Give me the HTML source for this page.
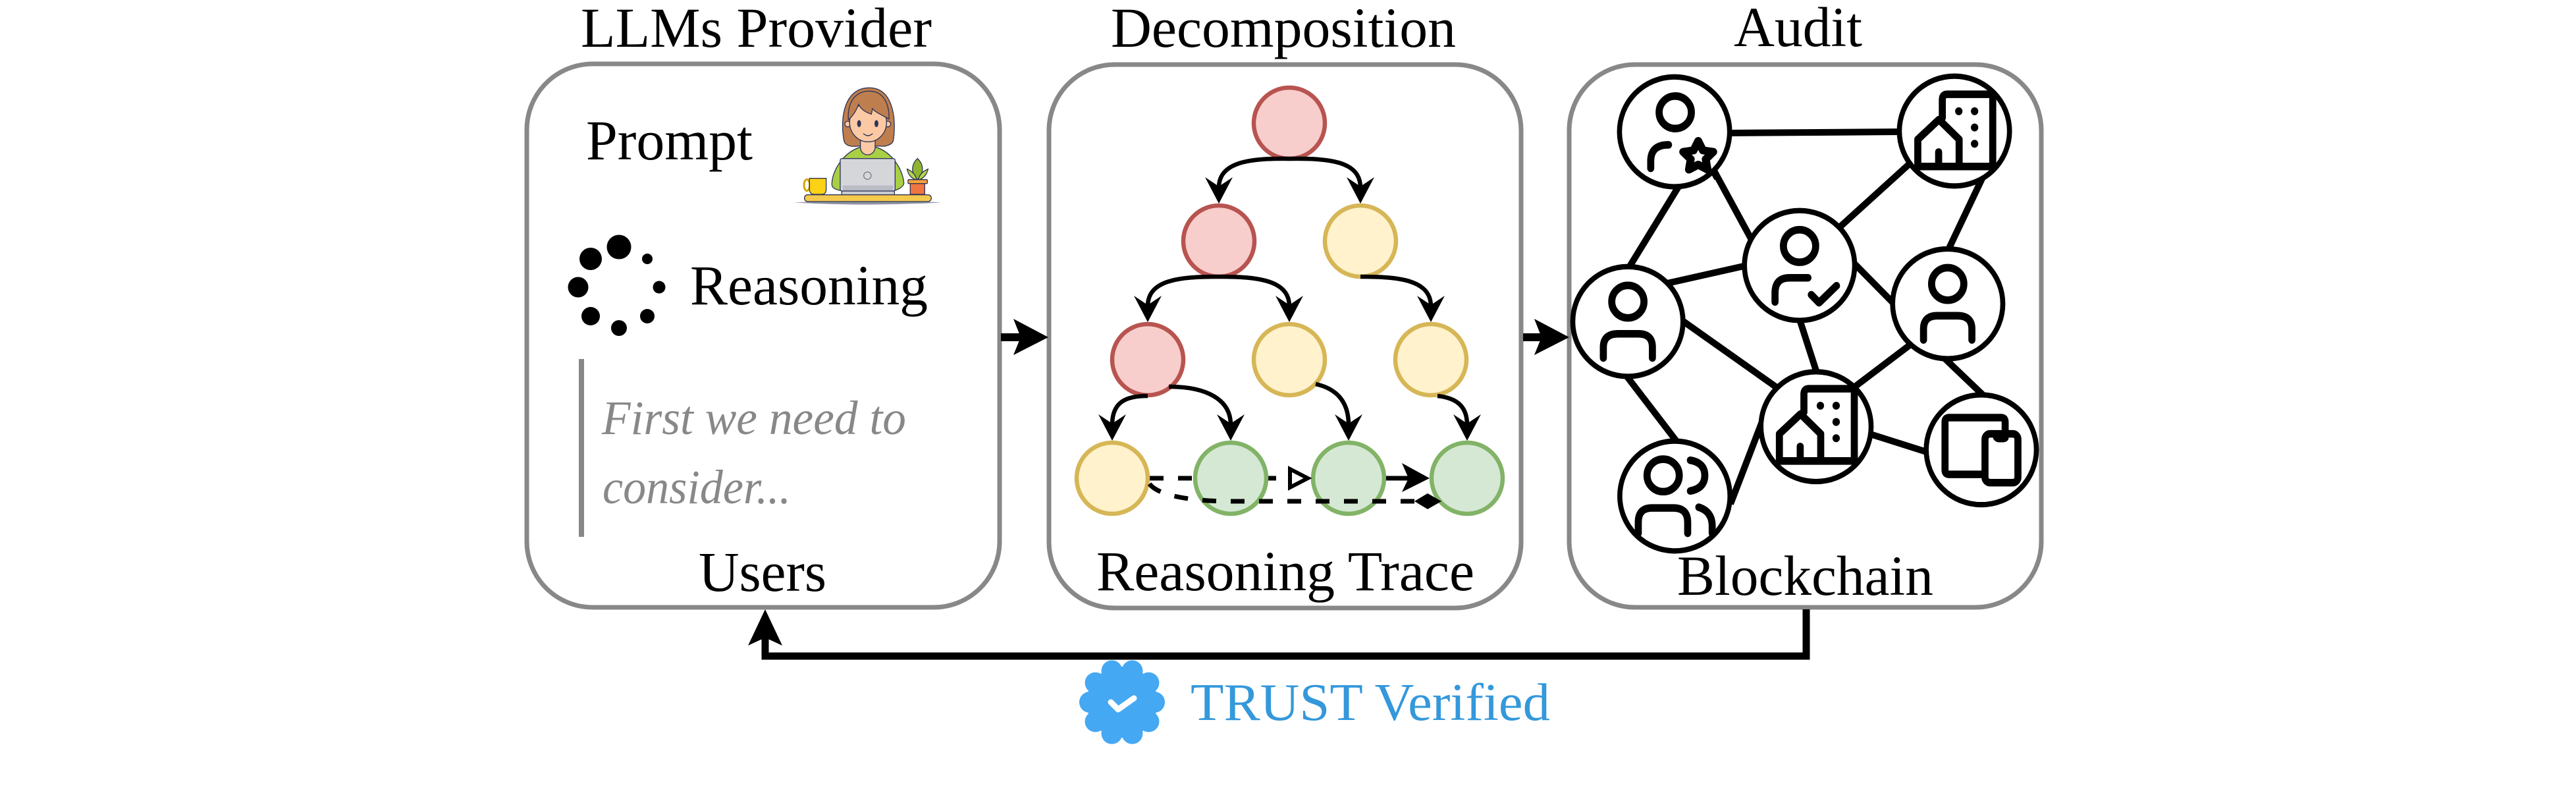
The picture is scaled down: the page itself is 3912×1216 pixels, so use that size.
<!DOCTYPE html>
<html>
<head>
<meta charset="utf-8">
<title>TRUST diagram</title>
<style>
html,body{margin:0;padding:0;background:#fff;width:3912px;height:1216px;overflow:hidden}
svg{display:block}
text{font-family:"Liberation Serif",serif;font-size:86px;fill:#000}
.box{fill:#fff;stroke:#888;stroke-width:7}
.c{fill:none;stroke:#000;stroke-width:6.5}
.r{fill:#f8cecc;stroke:#b85450;stroke-width:6.5}
.y{fill:#fff2cc;stroke:#d6b656;stroke-width:6.5}
.g{fill:#d5e8d4;stroke:#82b366;stroke-width:6.5}
.e{stroke:#000;stroke-width:10;fill:none}
.n{fill:#fff;stroke:#000;stroke-width:15}
.i{fill:none;stroke:#000;stroke-width:21;stroke-linecap:round;stroke-linejoin:round}
.l{stroke:#2f3557;stroke-width:4}
</style>
</head>
<body>
<svg width="3912" height="1216" viewBox="0 0 3912 1216" xmlns="http://www.w3.org/2000/svg">
<defs>
<polygon id="ah" points="0,0 -21,-40 0,-26 21,-40" fill="#000"/>
<g id="bld">
<path class="i" d="M1195 180V130Q1195 115 1210 115H1345V315H1122V240L1185 185L1245 240V315"/>
<path class="i" d="M1184 275V315"/>
<circle cx="1244" cy="162" r="11"/><circle cx="1291" cy="162" r="11"/><circle cx="1291" cy="207" r="11"/><circle cx="1291" cy="252" r="11"/>
</g>
</defs>
<rect width="3912" height="1216" fill="#fff"/>

<!-- boxes -->
<rect class="box" x="800" y="97" width="718" height="825" rx="100"/>
<rect class="box" x="1593" y="98" width="717" height="825" rx="100"/>
<rect class="box" x="2383" y="98" width="717" height="824" rx="100"/>

<!-- titles -->
<text x="882" y="71" textLength="533" lengthAdjust="spacingAndGlyphs">LLMs Provider</text>
<text x="1687" y="71" textLength="524" lengthAdjust="spacingAndGlyphs">Decomposition</text>
<text x="2633" y="70" textLength="195" lengthAdjust="spacingAndGlyphs">Audit</text>

<!-- box 1 -->
<text x="890" y="242" textLength="253" lengthAdjust="spacingAndGlyphs">Prompt</text>
<text x="1048" y="462" textLength="361" lengthAdjust="spacingAndGlyphs">Reasoning</text>
<text x="914" y="659" textLength="462" lengthAdjust="spacingAndGlyphs" style="font-size:73px;font-style:italic;fill:#888">First we need to</text>
<text x="915" y="764" textLength="286" lengthAdjust="spacingAndGlyphs" style="font-size:73px;font-style:italic;fill:#888">consider...</text>
<text x="1061" y="897" textLength="194" lengthAdjust="spacingAndGlyphs">Users</text>
<rect x="879" y="545" width="8" height="270" fill="#888"/>
<g fill="#000">
<circle cx="940" cy="375" r="18.5"/><circle cx="897" cy="393" r="17"/><circle cx="878" cy="436" r="15.5"/><circle cx="897" cy="480" r="14"/>
<circle cx="940" cy="498" r="12"/><circle cx="983" cy="480" r="11"/><circle cx="1001" cy="436" r="9.5"/><circle cx="983" cy="393" r="8"/>
</g>

<!-- person illustration -->
<g transform="translate(1180,110) scale(.3333)">
<path d="M75 592Q412 578 750 592Q412 612 75 592Z" fill="#8f93a2"/>
<path class="l" fill="#bf7e4e" d="M305 310C285 200 310 70 420 70C525 70 545 200 530 310C525 330 490 340 470 335H370C340 340 310 335 305 310Z"/>
<path class="l" fill="#a9cf45" d="M250 510C250 450 300 365 380 340H450C530 365 575 450 578 505C575 525 545 535 530 540H300C275 535 250 530 250 510Z"/>
<path class="l" fill="#fbc9a4" d="M380 310V345C385 385 440 385 447 345V310Z"/>
<circle class="l" cx="322" cy="235" r="13" fill="#fbc9a4"/><circle class="l" cx="505" cy="235" r="13" fill="#fbc9a4"/>
<ellipse class="l" cx="415" cy="228" rx="84" ry="88" fill="#fbc9a4"/>
<path class="l" fill="#bf7e4e" d="M325 215C320 130 360 85 420 85C490 85 512 150 510 212C480 195 445 180 435 165L430 190C400 180 380 165 372 145C360 175 345 200 325 215Z"/>
<ellipse cx="374" cy="233" rx="9" ry="16" fill="#2f3557"/><ellipse cx="453" cy="233" rx="9" ry="16" fill="#2f3557"/>
<path class="l" fill="none" d="M393 278Q415 298 436 278"/>
<rect class="l" x="288" y="392" width="250" height="148" rx="8" fill="#d4d6da"/>
<path d="M300 515H526Q532 515 530 525L526 538H300Z" fill="#b9bcc4"/>
<circle cx="412" cy="470" r="17" fill="#d4d6da" stroke="#666" stroke-width="3"/>
<rect class="l" x="295" y="540" width="240" height="17" fill="#c9cbd1"/>
<ellipse cx="136" cy="513" rx="13" ry="26" fill="none" stroke="#d0a800" stroke-width="9"/>
<path class="l" fill="#fcd116" d="M148 482H224V535Q222 555 205 555H170Q150 555 148 535Z"/>
<path class="l" fill="#8fb52e" d="M640 392C610 420 610 460 640 488C670 460 670 420 640 392Z"/>
<path class="l" fill="#b5d44a" d="M593 440C598 470 620 488 636 488C632 465 615 450 593 440Z"/>
<path class="l" fill="#b5d44a" d="M688 440C682 470 660 488 644 488C648 465 665 450 688 440Z"/>
<rect class="l" x="607" y="505" width="66" height="50" fill="#f2753f"/>
<rect class="l" x="597" y="488" width="88" height="18" rx="4" fill="#f5a33a"/>
<rect class="l" x="125" y="557" width="578" height="31" rx="15" fill="#f5c94c"/>
</g>

<!-- box 2: tree -->
<path d="M1742 726H1990" fill="none" stroke="#000" stroke-width="7" stroke-dasharray="21 22" stroke-dashoffset="-4"/>
<circle class="r" cx="1958" cy="187" r="54"/>
<circle class="r" cx="1851" cy="366" r="54"/>
<circle class="y" cx="2066" cy="366" r="54"/>
<circle class="r" cx="1743" cy="546" r="54"/>
<circle class="y" cx="1958" cy="546" r="54"/>
<circle class="y" cx="2173" cy="546" r="54"/>
<circle class="y" cx="1689" cy="726" r="54"/>
<circle class="g" cx="1869" cy="726" r="54"/>
<circle class="g" cx="2048" cy="726" r="54"/>
<circle class="g" cx="2228" cy="726" r="54"/>
<rect x="1938" y="700" width="16" height="50" fill="#fff"/>
<g class="c">
<path class="c" d="M1958 241C1900 240 1851 245 1851 285"/>
<path class="c" d="M1958 241C2020 240 2066 245 2066 285"/>
<path class="c" d="M1851 420C1790 420 1743 425 1743 465"/>
<path class="c" d="M1851 420C1910 420 1958 425 1958 465"/>
<path class="c" d="M2066 420C2125 420 2173 425 2173 465"/>
<path class="c" d="M1743 601C1710 601 1689 610 1689 645"/>
<path class="c" d="M1775 587C1830 587 1869 605 1869 645"/>
<path class="c" d="M1998 583C2030 590 2048 610 2048 645"/>
<path class="c" d="M2183 601C2210 604 2228 615 2228 645"/>
</g>
<use href="#ah" x="1851" y="309"/><use href="#ah" x="2066" y="309"/>
<use href="#ah" x="1743" y="489"/><use href="#ah" x="1958" y="489"/><use href="#ah" x="2173" y="489"/>
<use href="#ah" x="1689" y="669"/><use href="#ah" x="1869" y="669"/><use href="#ah" x="2048" y="669"/><use href="#ah" x="2228" y="669"/>
<polygon points="1959,712 1959,740 1986,726" fill="#fff" stroke="#000" stroke-width="6"/>
<path d="M2105 726H2145" stroke="#000" stroke-width="7"/>
<polygon points="2171,726 2129,703 2139,726 2129,747"/>
<path d="M2148 761H1870C1800 761 1745 750 1742 726" fill="none" stroke="#000" stroke-width="7" stroke-dasharray="21 22"/>
<polygon points="2148,761 2168,749 2189,761 2168,773"/>
<text x="1665" y="896" textLength="574" lengthAdjust="spacingAndGlyphs">Reasoning Trace</text>

<!-- connectors between boxes -->
<path d="M1520 512H1560" stroke="#000" stroke-width="12"/>
<polygon points="1592,512 1539,484 1550,512 1539,539"/>
<path d="M2313 512H2350" stroke="#000" stroke-width="12"/>
<polygon points="2383,512 2330,484 2341,512 2330,539"/>
<path d="M2743 925V996H1162V965" fill="none" stroke="#000" stroke-width="11"/>
<polygon points="1162,925 1136,980 1162,968 1188,980"/>

<!-- box 3: network -->
<g>
<path class="e" d="M2620 202L2890 200"/>
<path class="e" d="M2553 277L2469 414"/>
<path class="e" d="M2905 244L2787 351"/>
<path class="e" d="M3012 267L2956 385"/>
<path class="e" d="M2657 402L2523 432"/>
<path class="e" d="M2814 398L2883 468"/>
<path class="e" d="M2731 479L2761 572"/>
<path class="e" d="M2551 484L2705 593"/>
<path class="e" d="M2468 568L2550 675"/>
<path class="e" d="M2908 518L2809 593"/>
<path class="e" d="M2951 542L3016 604"/>
<path class="e" d="M2834 657L2932 688"/>
<path class="e" d="M2676 640L2628 765"/>
<path class="e" d="M2598 250L2666 375"/>
</g>
<g transform="translate(2340,80) scale(.5102,.5485)">
<ellipse class="n" cx="398" cy="219" rx="164" ry="152"/>
<ellipse class="n" cx="1231" cy="217" rx="164" ry="152"/>
<ellipse class="n" cx="770" cy="589" rx="164" ry="152"/>
<ellipse class="n" cx="259" cy="744" rx="164" ry="152"/>
<ellipse class="n" cx="1211" cy="695" rx="164" ry="152"/>
<ellipse class="n" cx="819" cy="1035" rx="164" ry="152"/>
<ellipse class="n" cx="1311" cy="1099" rx="164" ry="152"/>
<ellipse class="n" cx="399" cy="1227" rx="164" ry="152"/>

<!-- A -->
<ellipse class="i" cx="400" cy="165" rx="48" ry="45"/>
<path class="i" d="M327 320V300Q327 255 380 255"/>
<!-- B -->
<use href="#bld"/>
<!-- C -->
<ellipse class="i" cx="770" cy="535" rx="48" ry="45"/>
<path class="i" d="M697 690V665Q697 623 740 623H795"/>
<path class="i" d="M805 670L828 692L880 645"/>
<!-- D -->
<ellipse class="i" cx="259" cy="689" rx="48" ry="45"/>
<path class="i" d="M186 845V815Q186 778 230 778H290Q332 778 332 815V845"/>
<!-- E -->
<ellipse class="i" cx="1211" cy="640" rx="48" ry="45"/>
<path class="i" d="M1139 795V765Q1139 728 1180 728H1240Q1283 728 1283 765V795"/>
<!-- F -->
<use href="#bld" x="-412" y="815"/>
<!-- G -->
<path class="i" d="M1310 1167H1215Q1203 1167 1203 1155V1022Q1203 1010 1215 1010H1370Q1382 1010 1382 1022V1065Q1382 1068 1370 1068H1365Q1355 1068 1355 1058"/>
<rect class="i" x="1322" y="1055" width="98" height="135" rx="15"/>
<!-- H -->
<ellipse class="i" cx="364" cy="1170" rx="48" ry="45"/>
<path class="i" d="M445 1128Q488 1135 488 1170Q488 1205 445 1213"/>
<path class="i" d="M290 1330V1300Q290 1260 330 1260H395Q437 1260 437 1300V1330"/>
<path class="i" d="M470 1258Q510 1270 510 1310V1330"/>
</g>
<!-- star on node A, over the ring -->
<polygon transform="translate(2579,238)" points="0,-24 7.1,-9.7 22.8,-7.4 11.4,3.7 14.1,19.4 0,12 -14.1,19.4 -11.4,3.7 -22.8,-7.4 -7.1,-9.7" fill="#fff" stroke="#000" stroke-width="12" stroke-linejoin="round"/>
<path d="M2601 258L2608 271" stroke="#000" stroke-width="10"/>
<text x="2547" y="903" textLength="389" lengthAdjust="spacingAndGlyphs">Blockchain</text>

<!-- badge: ten rounded lobes -->
<g transform="translate(1704,1066)" fill="#45a8f2">
<circle r="54"/>
<circle cx="15.45" cy="-47.55" r="16"/><circle cx="-15.45" cy="-47.55" r="16"/>
<circle cx="40.45" cy="-29.39" r="16"/><circle cx="-40.45" cy="-29.39" r="16"/>
<circle cx="49" cy="0" r="16"/><circle cx="-49" cy="0" r="16"/>
<circle cx="40.45" cy="29.39" r="16"/><circle cx="-40.45" cy="29.39" r="16"/>
<circle cx="15.45" cy="47.55" r="16"/><circle cx="-15.45" cy="47.55" r="16"/>
</g>
<path d="M1687 1066L1698 1077L1722 1060" fill="none" stroke="#fff" stroke-width="9" stroke-linecap="round" stroke-linejoin="round"/>
<text x="1808" y="1093" textLength="546" lengthAdjust="spacingAndGlyphs" style="font-size:81px;fill:#3498db">TRUST Verified</text>
</svg>
</body>
</html>
